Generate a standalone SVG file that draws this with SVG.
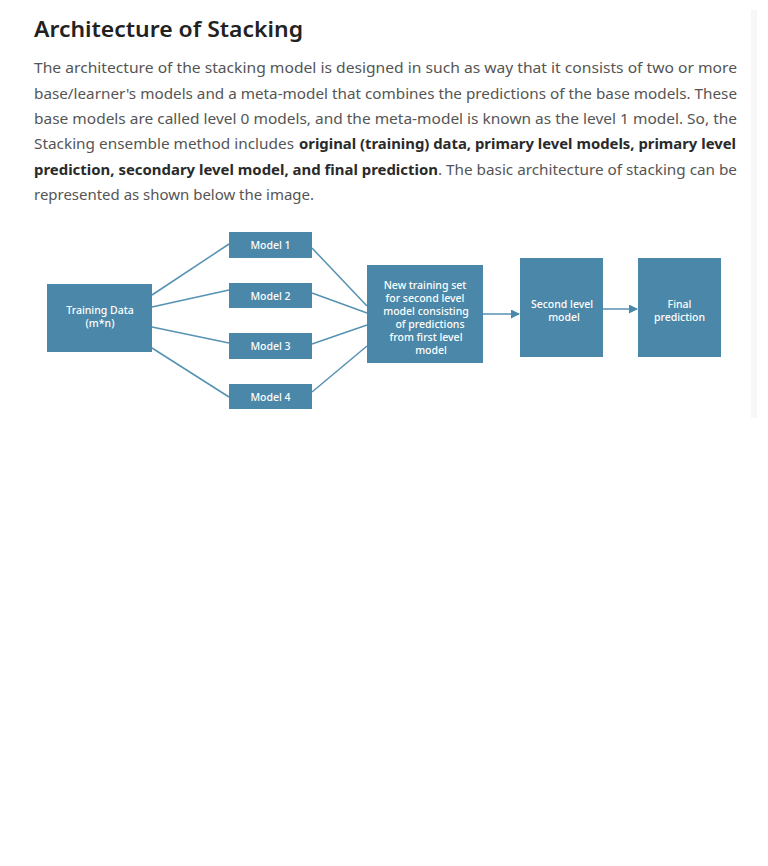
<svg xmlns="http://www.w3.org/2000/svg" width="768" height="866" viewBox="0 0 768 866">
<style>
.title{font-family:"Noto Sans","Open Sans",sans-serif;font-size:21px;font-weight:600;fill:#222}
.p{font-family:"Noto Sans","Open Sans",sans-serif;font-size:14px;fill:#555}
.b{font-family:"Noto Sans","Open Sans",sans-serif;font-size:14px;font-weight:700;fill:#2a2a2a}
.box{fill:#4a87a8}
.lbl{font-family:"Noto Sans","Open Sans",sans-serif;font-size:10.5px;font-weight:500;fill:#fff;text-anchor:middle}
.con{stroke:#5592b3;stroke-width:1.5;fill:none}
</style>
<defs>
<marker id="ah" markerWidth="10" markerHeight="10" refX="8" refY="4.5" orient="auto" markerUnits="userSpaceOnUse">
<path d="M0,0 L9,4.5 L0,9 Z" fill="#4a87a8"/>
</marker>
</defs>
<rect x="0" y="0" width="768" height="866" fill="#fff"/>
<rect x="751" y="10" width="6" height="408" fill="#f7f7f7"/>
<text class="title" x="34" y="37" textLength="269" lengthAdjust="spacingAndGlyphs">Architecture of Stacking</text>
<text class="p" x="34" y="73" textLength="703" lengthAdjust="spacingAndGlyphs">The architecture of the stacking model is designed in such as way that it consists of two or more</text>
<text class="p" x="34" y="98.5" textLength="703" lengthAdjust="spacingAndGlyphs">base/learner's models and a meta-model that combines the predictions of the base models. These</text>
<text class="p" x="34" y="124" textLength="703" lengthAdjust="spacingAndGlyphs">base models are called level 0 models, and the meta-model is known as the level 1 model. So, the</text>
<text class="p" x="34" y="149" textLength="260" lengthAdjust="spacingAndGlyphs">Stacking ensemble method includes</text>
<text class="b" x="299" y="149" textLength="437" lengthAdjust="spacingAndGlyphs">original (training) data, primary level models, primary level</text>
<text class="b" x="34" y="174.5" textLength="404" lengthAdjust="spacingAndGlyphs">prediction, secondary level model, and final prediction</text>
<text class="p" x="438" y="174.5" textLength="299" lengthAdjust="spacingAndGlyphs">. The basic architecture of stacking can be</text>
<text class="p" x="34" y="200" textLength="280" lengthAdjust="spacingAndGlyphs">represented as shown below the image.</text>

<g id="connectors">
<line class="con" x1="152" y1="295" x2="229" y2="244"/>
<line class="con" x1="152" y1="307" x2="229" y2="290"/>
<line class="con" x1="152" y1="327" x2="229" y2="343"/>
<line class="con" x1="152" y1="348" x2="229" y2="397"/>
<line class="con" x1="312" y1="248" x2="367" y2="306"/>
<line class="con" x1="312" y1="293" x2="367" y2="313"/>
<line class="con" x1="312" y1="344" x2="367" y2="325"/>
<line class="con" x1="312" y1="392" x2="367" y2="346"/>
<line class="con" x1="483" y1="314" x2="519" y2="314" marker-end="url(#ah)"/>
<line class="con" x1="603" y1="309" x2="637" y2="309" marker-end="url(#ah)"/>
</g>

<g id="training-data">
<rect class="box" x="47" y="284" width="105" height="68"/>
<text class="lbl" x="100" y="314">Training Data</text>
<text class="lbl" x="100" y="327">(m*n)</text>
</g>
<g id="model-1">
<rect class="box" x="229" y="232" width="83" height="26"/>
<text class="lbl" x="270.5" y="249">Model 1</text>
</g>
<g id="model-2">
<rect class="box" x="229" y="283" width="83" height="25"/>
<text class="lbl" x="270.5" y="299.5">Model 2</text>
</g>
<g id="model-3">
<rect class="box" x="229" y="333" width="83" height="26"/>
<text class="lbl" x="270.5" y="350">Model 3</text>
</g>
<g id="model-4">
<rect class="box" x="229" y="384" width="83" height="25"/>
<text class="lbl" x="270.5" y="400.5">Model 4</text>
</g>
<g id="new-training-set">
<rect class="box" x="367" y="265" width="116" height="98"/>
<text class="lbl" x="425" y="288.5">New training set</text>
<text class="lbl" x="425" y="301.5">for second level</text>
<text class="lbl" x="426" y="314.5">model consisting</text>
<text class="lbl" x="430" y="327.5">of predictions</text>
<text class="lbl" x="426" y="340.5">from first level</text>
<text class="lbl" x="431" y="353.5">model</text>
</g>
<g id="second-level-model">
<rect class="box" x="520" y="258" width="83" height="99"/>
<text class="lbl" x="562" y="308">Second level</text>
<text class="lbl" x="564" y="321">model</text>
</g>
<g id="final-prediction">
<rect class="box" x="638" y="258" width="83" height="99"/>
<text class="lbl" x="679.5" y="308">Final</text>
<text class="lbl" x="679.5" y="321">prediction</text>
</g>
</svg>
